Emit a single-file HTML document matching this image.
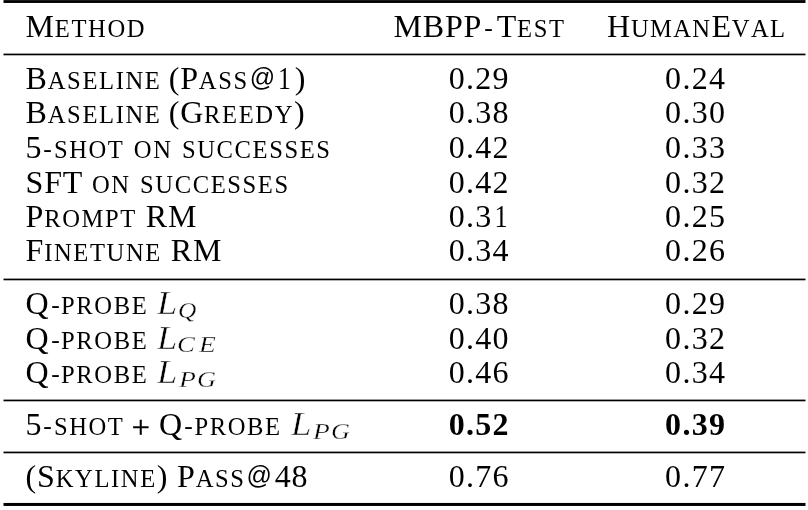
<!DOCTYPE html>
<html><head><meta charset="utf-8">
<style>
html,body{margin:0;padding:0;background:#fff;}
body{width:808px;height:510px;position:relative;overflow:hidden;font-family:"Liberation Serif","Times New Roman",serif;font-size:32px;color:#000;-webkit-font-smoothing:antialiased;font-kerning:none;}
.r{position:absolute;left:0;top:0;width:808px;height:40px;line-height:40px;white-space:nowrap;will-change:transform;}
.c1{position:absolute;letter-spacing:0.8px;}
.n{position:absolute;letter-spacing:1.3px;}
.sc{text-transform:uppercase;font-size:24.6px;word-spacing:1.6px;letter-spacing:1.6px;}
.m{font-style:italic;}
.g{position:absolute;font-style:italic;white-space:nowrap;transform-origin:0 0;-webkit-text-stroke:0.3px #fff;}
.gL{-webkit-text-stroke:0.5px #fff;}
.mathc{position:absolute;left:0;top:0;width:808px;height:510px;will-change:transform;}
b{font-weight:bold;}
.plus{position:relative;top:2.5px;margin-left:-1.5px;margin-right:-0.4px;-webkit-text-stroke:0.5px #000;}
.nsp{margin-right:-1.5px;}
.one{display:inline-block;transform:scaleX(0.8);transform-origin:0 0;}
.onec{display:inline-block;transform:scaleX(0.82);transform-origin:50% 0;}
.at{font-family:'Liberation Sans',sans-serif;font-size:25px;position:relative;top:-2.7px;margin:0 2px 0 1px;}
.hy{display:inline-block;transform:scale(0.8,0.8);transform-origin:50% 70%;}
svg{position:absolute;left:0;top:0;}
</style></head><body>
<svg width="808" height="510" viewBox="0 0 808 510">
<rect x="3.5" y="0.1" width="802" height="2.85" fill="#000"/>
<rect x="3.5" y="53.6" width="802" height="1.7" fill="#000"/>
<rect x="3.5" y="278.6" width="802" height="1.7" fill="#000"/>
<rect x="3.5" y="399.6" width="802" height="1.7" fill="#000"/>
<rect x="3.5" y="451.6" width="802" height="1.7" fill="#000"/>
<rect x="3.5" y="502.95" width="802" height="3.0" fill="#000"/>
</svg>
<div class="r" style="top:6px"><span class="c1" style="left:25.6px">M<span class="sc">ethod</span></span><span class="c1" style="left:393.6px">MBPP<span class="hy" style="margin:0 2px 0 1px">-</span>T<span class="sc">est</span></span><span class="c1" style="left:607px">H<span class="sc" style="letter-spacing:1.35px">uman</span>E<span class="sc" style="letter-spacing:1.35px">val</span></span></div>
<div class="r" style="top:58px"><span class="c1" style="left:25.6px">B<span class="sc">aseline</span><span class="nsp"> </span>(P<span class="sc">ass</span><span class="at">@</span><span class="one">1</span>)</span><span class="n" style="left:448.7px">0.29</span><span class="n" style="left:665.1px">0.24</span></div>
<div class="r" style="top:92px"><span class="c1" style="left:25.6px">B<span class="sc">aseline</span><span class="nsp"> </span>(G<span class="sc">reedy</span>)</span><span class="n" style="left:448.7px">0.38</span><span class="n" style="left:665.1px">0.30</span></div>
<div class="r" style="top:127px"><span class="c1" style="left:25.6px">5<span class="hy">-</span><span class="sc">shot on successes</span></span><span class="n" style="left:448.7px">0.42</span><span class="n" style="left:665.1px">0.33</span></div>
<div class="r" style="top:162px"><span class="c1" style="left:25.6px">SFT <span class="sc">on successes</span></span><span class="n" style="left:448.7px">0.42</span><span class="n" style="left:665.1px">0.32</span></div>
<div class="r" style="top:196px"><span class="c1" style="left:25.6px">P<span class="sc">rompt</span> RM</span><span class="n" style="left:448.7px">0.3<span class="onec">1</span></span><span class="n" style="left:665.1px">0.25</span></div>
<div class="r" style="top:230px"><span class="c1" style="left:25.6px">F<span class="sc">inetune</span> RM</span><span class="n" style="left:448.7px">0.34</span><span class="n" style="left:665.1px">0.26</span></div>
<div class="r" style="top:283px"><span class="c1" style="left:25.6px">Q<span class="hy">-</span><span class="sc">probe</span></span><span class="n" style="left:448.7px">0.38</span><span class="n" style="left:665.1px">0.29</span></div>
<div class="r" style="top:318px"><span class="c1" style="left:25.6px">Q<span class="hy">-</span><span class="sc">probe</span></span><span class="n" style="left:448.7px">0.40</span><span class="n" style="left:665.1px">0.32</span></div>
<div class="r" style="top:352px"><span class="c1" style="left:25.6px">Q<span class="hy">-</span><span class="sc">probe</span></span><span class="n" style="left:448.7px">0.46</span><span class="n" style="left:665.1px">0.34</span></div>
<div class="r" style="top:404px"><span class="c1" style="left:25.6px">5<span class="hy">-</span><span class="sc">shot</span> <span class="plus">+</span> Q<span class="hy">-</span><span class="sc">probe</span></span><span class="n" style="left:448.7px"><b>0.52</b></span><span class="n" style="left:665.1px"><b>0.39</b></span></div>
<div class="r" style="top:456px"><span class="c1" style="left:25.6px">(S<span class="sc">kyline</span>) P<span class="sc">ass</span><span class="at">@</span>48</span><span class="n" style="left:448.7px">0.76</span><span class="n" style="left:665.1px">0.77</span></div>
<div class="mathc"><span class="g gL" style="left:157.27px;top:285px;font-size:33px;line-height:36px;transform:scaleX(1.107)">L</span><span class="g" style="left:177.53px;top:298px;font-size:22.5px;line-height:25px;transform:scaleX(1.128)">Q</span><span class="g gL" style="left:157.27px;top:320px;font-size:33px;line-height:36px;transform:scaleX(1.107)">L</span><span class="g" style="left:177.39px;top:332px;font-size:22.5px;line-height:25px;transform:scaleX(1.190)">C</span><span class="g" style="left:199.38px;top:332px;font-size:22.5px;line-height:25px;transform:scaleX(1.222)">E</span><span class="g gL" style="left:157.27px;top:354px;font-size:33px;line-height:36px;transform:scaleX(1.107)">L</span><span class="g" style="left:179.00px;top:367px;font-size:22.5px;line-height:25px;transform:scaleX(1.228)">P</span><span class="g" style="left:196.88px;top:367px;font-size:22.5px;line-height:25px;transform:scaleX(1.169)">G</span><span class="g gL" style="left:291.27px;top:406px;font-size:33px;line-height:36px;transform:scaleX(1.113)">L</span><span class="g" style="left:312.90px;top:419px;font-size:22.5px;line-height:25px;transform:scaleX(1.220)">P</span><span class="g" style="left:330.79px;top:419px;font-size:22.5px;line-height:25px;transform:scaleX(1.162)">G</span></div>
</body></html>
